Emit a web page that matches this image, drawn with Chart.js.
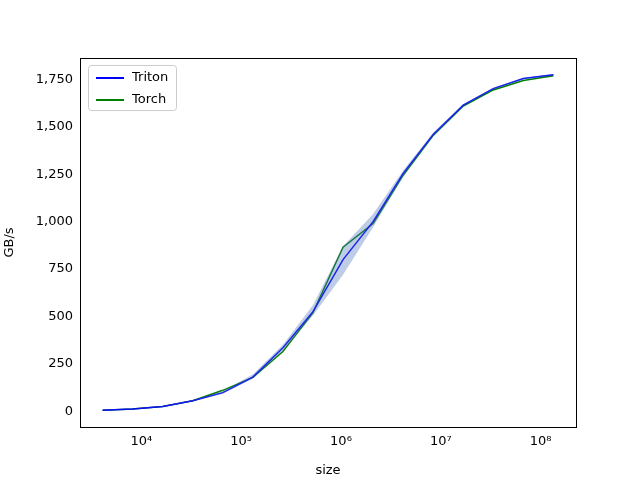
<!DOCTYPE html>
<html>
<head>
<script src="https://cdn.jsdelivr.net/npm/chart.js@4"></script>
<style>body{margin:0;background:#fff}#c{display:block}</style>
</head>
<body>
<canvas id="c" width="640" height="480"></canvas>
<script>
const sizes = [4096, 8192, 16384, 32768, 65536, 131072, 262144, 524288, 1048576, 2097152, 4194304, 8388608, 16777216, 33554432, 67108864, 134217728];
const triton = [5, 12, 25, 55, 98, 180, 335, 525, 800, 1000, 1255, 1460, 1615, 1702, 1755, 1775];
const tritonLow = [4, 11, 23, 52, 92, 172, 320, 505, 720, 970, 1235, 1450, 1610, 1698, 1752, 1772];
const tritonHigh = [6, 13, 27, 58, 105, 195, 350, 560, 870, 1040, 1270, 1470, 1620, 1706, 1758, 1778];
const torch = [5, 12, 25, 55, 110, 178, 315, 520, 865, 990, 1245, 1455, 1610, 1695, 1745, 1770];
const xTicks = [1e4, 1e5, 1e6, 1e7, 1e8];
const yTicks = [0, 250, 500, 750, 1000, 1250, 1500, 1750];

const pts = arr => sizes.map((s, i) => ({x: s, y: arr[i]}));
const sup = {'0':'⁰','1':'¹','2':'²','3':'³','4':'⁴','5':'⁵','6':'⁶','7':'⁷','8':'⁸','9':'⁹'};
const font = {family: 'DejaVu Sans', size: 13};

const frame = {
  id: 'frame',
  afterDraw(ch) {
    const {ctx, chartArea: a} = ch;
    ctx.save();
    ctx.strokeStyle = '#000'; ctx.lineWidth = 1;
    ctx.strokeRect(a.left + 0.5, a.top + 0.5, a.right - a.left, a.bottom - a.top);
    // legend
    const lx = a.left + 8, ly = a.top + 7;
    ctx.fillStyle = 'rgba(255,255,255,0.8)';
    ctx.strokeStyle = '#ccc';
    ctx.beginPath(); ctx.roundRect(lx + 0.5, ly + 0.5, 88, 45, 3); ctx.fill(); ctx.stroke();
    ctx.font = '13px DejaVu Sans'; ctx.textBaseline = 'middle'; ctx.fillStyle = '#000';
    [['Triton', 'blue'], ['Torch', 'green']].forEach(([t, c], i) => {
      const y = ly + 13 + i * 22;
      ctx.strokeStyle = c; ctx.lineWidth = 2;
      ctx.beginPath(); ctx.moveTo(lx + 8, y); ctx.lineTo(lx + 36, y); ctx.stroke();
      ctx.fillText(t, lx + 44, y);
    });
    ctx.restore();
  }
};

new Chart(document.getElementById('c'), {
  type: 'line',
  data: {
    datasets: [
      {data: pts(tritonLow), borderWidth: 0, pointRadius: 0, fill: false},
      {data: pts(tritonHigh), borderWidth: 0, pointRadius: 0, fill: '-1', backgroundColor: 'rgba(70,110,190,0.35)'},
      {label: 'Triton', data: pts(triton), borderColor: 'blue', borderWidth: 1.5, pointRadius: 0, fill: false},
      {label: 'Torch', data: pts(torch), borderColor: 'green', borderWidth: 1.5, pointRadius: 0, fill: false}
    ]
  },
  options: {
    responsive: false, animation: false,
    layout: {padding: {left: 0, right: 64, top: 58, bottom: 0}},
    plugins: {legend: {display: false}, tooltip: {enabled: false}},
    scales: {
      x: {
        type: 'logarithmic', min: Math.pow(10, 3.386), max: Math.pow(10, 8.354),
        grid: {display: false, drawTicks: true, tickLength: 4, tickColor: '#000'},
        border: {display: false},
        afterBuildTicks: s => { s.ticks = xTicks.map(v => ({value: v})); },
        afterFit: s => { s.height = 53; },
        ticks: {color: '#000', font, maxRotation: 0, autoSkip: false,
          callback: v => '10' + String(Math.round(Math.log10(v))).split('').map(d => sup[d]).join('')},
        title: {display: true, text: 'size', color: '#000', font, padding: 2}
      },
      y: {
        min: -83.5, max: 1863.5,
        grid: {display: false, drawTicks: true, tickLength: 4, tickColor: '#000'},
        border: {display: false},
        afterBuildTicks: s => { s.ticks = yTicks.map(v => ({value: v})); },
        afterFit: s => { s.width = 80; },
        ticks: {color: '#000', font, autoSkip: false},
        title: {display: true, text: 'GB/s', color: '#000', font, padding: 2}
      }
    }
  },
  plugins: [frame]
});
</script>
</body>
</html>
